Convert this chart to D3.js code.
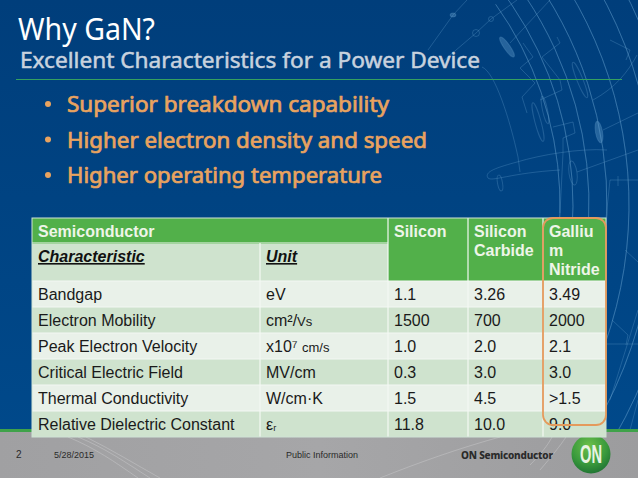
<!doctype html>
<head>
<meta charset="utf-8">
<title>Why GaN?</title>
<script src="https://d3js.org/d3.v7.min.js"></script>
<style>
  html, body { margin: 0; padding: 0; background: #003f7d; overflow: hidden; }
  svg { display: block; }
</style>
</head>
<body>
<svg id="slide" width="638" height="478"></svg>
<script>
var titleText = 'Why GaN?';
var subtitleText = 'Excellent Characteristics for a Power Device';
var bullets = ['Superior breakdown capability', 'Higher electron density and speed', 'Higher operating temperature'];

var columns = ['characteristic', 'unit', 'silicon', 'carbide', 'nitride'];
var columnEdges = [32, 260, 388, 468, 543, 606];
var rowNames = ['Bandgap', 'Electron Mobility', 'Peak Electron Velocity', 'Critical Electric Field', 'Thermal Conductivity', 'Relative Dielectric Constant'];
var units = ['eV', 'cm²/', 'x10⁷ ', 'MV/cm', 'W/cm·K', 'ε'];
var unitTails = ['', 'Vs', 'cm/s', '', '', 'ᵣ'];
var silicon = ['1.1', '1500', '1.0', '0.3', '1.5', '11.8'];
var siliconCarbide = ['3.26', '700', '2.0', '3.0', '4.5', '10.0'];
var galliumNitride = ['3.49', '2000', '2.1', '3.0', '>1.5', '9.0'];
var materialHeaders = [['Silicon'], ['Silicon', 'Carbide'], ['Galliu', 'm', 'Nitride']];

var footerPage = '2';
var footerDate = '5/28/2015';
var footerInfo = 'Public Information';
var footerCompany = 'ON Semiconductor';

var svg = d3.select('#slide');
var defs = svg.append('defs');
var sans = '"Liberation Sans", Arial, sans-serif';
var tahoma = '"Noto Sans", "DejaVu Sans", sans-serif';

var bg = defs.append('linearGradient').attr('id', 'bg').attr('x2', 0).attr('y2', 1);
bg.append('stop').attr('offset', 0).attr('stop-color', '#003e7b');
bg.append('stop').attr('offset', 1).attr('stop-color', '#004a8c');

var foot = defs.append('linearGradient').attr('id', 'foot').attr('x2', 1).attr('y2', 0);
foot.append('stop').attr('offset', 0).attr('stop-color', '#a0a0a2');
foot.append('stop').attr('offset', 0.5).attr('stop-color', '#a6a6a8');
foot.append('stop').attr('offset', 1).attr('stop-color', '#9c9c9e');

var ball = defs.append('radialGradient').attr('id', 'ball').attr('cx', 0.45).attr('cy', 0.3).attr('r', 0.75);
ball.append('stop').attr('offset', 0).attr('stop-color', '#6cc04a');
ball.append('stop').attr('offset', 0.6).attr('stop-color', '#3a9a3c');
ball.append('stop').attr('offset', 1).attr('stop-color', '#1c6f32');

svg.append('rect').attr('width', 638).attr('height', 478).attr('fill', 'url(#bg)');

// circuit pattern behind the slide
var deco = svg.append('g').attr('fill', 'none').attr('stroke', '#5f9ccb').attr('stroke-opacity', 0.32).attr('stroke-width', 1);
var decoArc = d3.arc();
[[345, 0.95], [358, 0.9], [374, 0.82], [392, 0.75], [414, 0.6], [440, 0.5], [462, 0.45]].forEach(function(a) {
  deco.append('path')
    .attr('transform', 'translate(215,205)')
    .attr('d', decoArc({innerRadius: a[0], outerRadius: a[0], startAngle: a[1], endAngle: 2.1}));
});
var traces = [
  'M467 0L453 15L428 50', 'M517 0L491 19L476 33L442 62', 'M550 0L510 43',
  'M523 43L533 57L520 68L535 83L522 97L527 113', 'M557 37L560 43L542 57L560 80L562 90L540 100',
  'M482 67C495 72 510 120 518 157L520 172', 'M553 127L573 122L575 133L563 138L563 153L560 213',
  'M603 130L638 113', 'M577 172L638 150',
  'M607 150C580 148 540 155 517 162C495 168 484 172 488 178C492 182 510 173 560 170',
  'M593 100C615 88 628 72 637 55', 'M610 40L630 50L626 60', 'M610 180L638 180M610 180L606 218M618 176L618 186',
  'M625 250L638 262M612 320L628 335L626 345M606 344L638 344M610 400L638 310M630 430L638 400'
];
deco.selectAll('.trace').data(traces).enter().append('path').attr('class', 'trace').attr('d', function(d) { return d; });
var loops = [
  [538, 122, 3, 20, -15, false], [545, 110, 2.5, 14, -12, false], [580, 80, 3, 19, -22, false],
  [573, 173, 4, 12, -8, false], [500, 183, 2.5, 8, -10, false], [507, 47, 3, 12, -35, true],
  [599, 132, 3.5, 11, -10, true], [453, 15, 3, 2, 0, true], [476, 33, 3.5, 3.5, 0, false], [491, 19, 2.5, 2.5, 0, false]
];
loops.forEach(function(l) {
  deco.append('ellipse').attr('rx', l[2]).attr('ry', l[3])
    .attr('transform', 'translate(' + l[0] + ',' + l[1] + ') rotate(' + l[4] + ')')
    .attr('fill', l[5] ? '#5f9ccb' : 'none').attr('fill-opacity', 0.4);
});

// header text
svg.append('text').attr('x', 18).attr('y', 40).attr('fill', '#ffffff')
  .attr('font-family', tahoma).attr('font-size', 31)
  .attr('textLength', 137).attr('lengthAdjust', 'spacingAndGlyphs').text(titleText);
svg.append('text').attr('x', 20).attr('y', 68).attr('fill', '#c8d2de').attr('stroke', '#c8d2de').attr('stroke-width', 0.5)
  .attr('font-family', tahoma).attr('font-size', 21)
  .attr('textLength', 460).attr('lengthAdjust', 'spacingAndGlyphs').text(subtitleText);
svg.append('line').attr('x1', 16).attr('x2', 622).attr('y1', 79.5).attr('y2', 79.5)
  .attr('stroke', '#35a060').attr('stroke-width', 1);

// bullets
var bulletY = d3.scalePoint().domain(bullets).range([112, 183]);
var bulletRows = svg.append('g').selectAll('g').data(bullets).enter().append('g')
  .attr('transform', function(d) { return 'translate(0,' + bulletY(d) + ')'; });
bulletRows.append('circle').attr('cx', 48).attr('cy', -8).attr('r', 3).attr('fill', '#e9a35f');
bulletRows.append('text').attr('x', 67).attr('fill', '#e9a35f').attr('stroke', '#e9a35f').attr('stroke-width', 0.7)
  .attr('font-family', tahoma).attr('font-size', 21)
  .attr('textLength', function(d, i) { return [322, 360, 315][i]; })
  .attr('lengthAdjust', 'spacingAndGlyphs').text(function(d) { return d; });

// footer
svg.append('rect').attr('y', 429).attr('width', 638).attr('height', 3).attr('fill', '#3fa24a');
svg.append('rect').attr('y', 432).attr('width', 638).attr('height', 46).attr('fill', 'url(#foot)');
var footLines = svg.append('g').attr('fill', 'none').attr('stroke', '#c4c4c6').attr('stroke-opacity', 0.55);
['M68 437C95 448 115 462 138 478', 'M78 437C105 448 125 462 150 478', 'M86 437C112 450 135 464 160 478',
 'M380 478C420 462 460 448 500 437', 'M530 465C540 455 548 445 552 437', 'M540 470C552 456 560 446 566 437'].forEach(function(d) {
  footLines.append('path').attr('d', d);
});
var footText = svg.append('g').attr('font-family', sans).attr('font-size', 9).attr('fill', '#2a2a2a');
footText.append('text').attr('x', 16).attr('y', 458).attr('font-size', 10).text(footerPage);
footText.append('text').attr('x', 54).attr('y', 458).text(footerDate);
footText.append('text').attr('x', 286).attr('y', 458).text(footerInfo);
svg.append('text').attr('x', 461).attr('y', 459).attr('font-family', tahoma).attr('font-size', 10)
  .attr('font-weight', 800).attr('fill', '#2a2a2a').attr('textLength', 92).text(footerCompany);
svg.append('circle').attr('cx', 591).attr('cy', 454).attr('r', 19.5).attr('fill', 'url(#ball)');
svg.append('text').attr('x', 591).attr('y', 463).attr('text-anchor', 'middle').attr('font-family', sans)
  .attr('font-size', 25).attr('font-weight', 700).attr('fill', '#e8f3e2')
  .attr('textLength', 22).attr('lengthAdjust', 'spacingAndGlyphs').text('ON');

// table
var x = d3.scaleOrdinal().domain(columns).range(columnEdges);
var rowY = d3.scaleBand().domain(rowNames).range([281, 437]);
var table = svg.append('g');
var tableRows = rowNames.map(function(name, i) {
  return {characteristic: name, unit: units[i], tail: unitTails[i], silicon: silicon[i], carbide: siliconCarbide[i], nitride: galliumNitride[i]};
});

// green header blocks
table.append('rect').attr('x', x('characteristic')).attr('y', 218).attr('width', columnEdges[5] - columnEdges[0]).attr('height', 63).attr('fill', '#52b04a');
table.append('rect').attr('x', x('characteristic')).attr('y', 244).attr('width', x('silicon') - x('characteristic')).attr('height', 37).attr('fill', '#cfe3ce');

table.selectAll('.row').data(tableRows).enter().append('rect').attr('class', 'row')
  .attr('x', x('characteristic')).attr('y', function(d) { return rowY(d.characteristic); })
  .attr('width', columnEdges[5] - columnEdges[0]).attr('height', rowY.bandwidth())
  .attr('fill', function(d, i) { return i % 2 ? '#cfe3ce' : '#e9f1e9'; });

// white cell rules
var rules = table.append('g').attr('stroke', '#f4f8f3').attr('stroke-width', 1.2);
rules.append('line').attr('x1', 32).attr('x2', 388).attr('y1', 243).attr('y2', 243);
rules.selectAll('.hr').data(rowNames).enter().append('line').attr('class', 'hr')
  .attr('x1', 32).attr('x2', 606).attr('y1', function(d) { return rowY(d); }).attr('y2', function(d) { return rowY(d); });
rules.append('line').attr('x1', x('unit')).attr('x2', x('unit')).attr('y1', 243).attr('y2', 437);
['silicon', 'carbide', 'nitride'].forEach(function(c) {
  rules.append('line').attr('x1', x(c)).attr('x2', x(c)).attr('y1', 218).attr('y2', 437);
});
table.append('rect').attr('x', 32).attr('y', 218).attr('width', 574).attr('height', 219)
  .attr('fill', 'none').attr('stroke', '#cfe3d6').attr('stroke-width', 1);

table.append('text').attr('x', 38).attr('y', 237).attr('font-family', sans).attr('font-size', 16)
  .attr('font-weight', 700).attr('fill', '#eef5e8').text('Semiconductor');
var subHeads = [['characteristic', 'Characteristic'], ['unit', 'Unit']];
subHeads.forEach(function(h) {
  table.append('text').attr('x', x(h[0]) + 6).attr('y', 262).attr('font-family', sans).attr('font-size', 16)
    .attr('font-weight', 700).attr('font-style', 'italic').attr('text-decoration', 'underline')
    .attr('fill', '#111').text(h[1]);
});
['silicon', 'carbide', 'nitride'].forEach(function(c, i) {
  var head = table.append('text').attr('font-family', sans).attr('font-size', 16).attr('font-weight', 700).attr('fill', '#eef5e8');
  materialHeaders[i].forEach(function(line, j) {
    head.append('tspan').attr('x', x(c) + 6).attr('y', 237 + j * 19).text(line);
  });
});

columns.forEach(function(c) {
  var cells = table.selectAll('.cell-' + c).data(tableRows).enter().append('text').attr('class', 'cell-' + c)
    .attr('x', x(c) + 6)
    .attr('y', function(d) { return rowY(d.characteristic) + rowY.bandwidth() / 2 + 6; })
    .attr('font-family', sans).attr('font-size', 16).attr('fill', '#1a1a1a')
    .text(function(d) { return d[c]; });
  if (c == 'unit') {
    cells.append('tspan').attr('font-size', 13).text(function(d) { return d.tail; });
  }
});

// highlight round the GaN column
table.append('rect').attr('x', 543).attr('y', 218).attr('width', 63).attr('height', 207).attr('rx', 10)
  .attr('fill', 'none').attr('stroke', '#e49a5c').attr('stroke-width', 1.8);
</script>
</body>
